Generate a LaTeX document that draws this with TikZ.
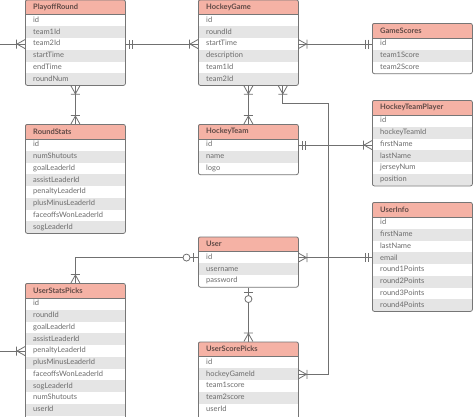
\documentclass[tikz,border=0pt]{standalone}
\usepackage{fontspec}
\setmainfont{Lato}
\usetikzlibrary{calc}
\definecolor{hdrfill}{RGB}{245,178,165}
\definecolor{rowgray}{RGB}{229,229,229}
\definecolor{bordercol}{RGB}{118,118,118}
\definecolor{conncol}{RGB}{112,112,112}
\definecolor{rowtext}{RGB}{108,108,108}
\definecolor{hdrtext}{RGB}{96,74,70}
\tikzset{
  conn/.style={draw=conncol, line width=0.8pt},
  rowbox/.style={anchor=north west, inner xsep=8pt, inner ysep=0pt, text width=84pt, align=left,
    minimum height=11.75pt, font=\fontsize{7.5}{8.5}\selectfont, text=rowtext},
  hdrlabel/.style={anchor=west, inner sep=0pt, font=\fontsize{7.5}{8.5}\selectfont\bfseries, text=hdrtext},
  outline/.style={draw=bordercol, line width=0.8pt, rounded corners=2pt, inner sep=0pt,
    anchor=north west, minimum width=100pt},
  crow/.pic={\draw[conn] (0,4.5) -- (8,0) -- (0,-4.5) (8.5,4.5) -- (8.5,-4.5);},
  twobar/.pic={\draw[conn] (3.5,4.5) -- (3.5,-4.5) (7,4.5) -- (7,-4.5);},
  zeroone/.pic={\draw[conn] (4.5,4.5) -- (4.5,-4.5); \draw[conn, fill=white] (11.5,0) circle (3.5pt);},
}
% name, x, y, title, outline rows, rows
\newcommand\ertable[6]{%
  \begin{scope}
    \clip[rounded corners=2pt] (#2,#3) rectangle ++(100,{15+#5*11.75});
    \fill[hdrfill] (#2,#3) rectangle ++(100,15);
    \foreach \r [count=\i] in {#6} {
      \ifodd\i \def\rowfill{white}\else\def\rowfill{rowgray}\fi
      \node[rowbox, fill=\rowfill] (#1-r\i) at (#2,{#3+15+(\i-1)*11.75}) {\strut\r};
    }
  \end{scope}
  \draw[bordercol, line width=0.5pt] (#2,{#3+15}) -- ++(100,0);
  \node[hdrlabel] (#1-h) at ({#2+8},{#3+7.5}) {#4};
  \node[outline, minimum height={15+#5*11.75}] (#1) at (#2,#3) {};
}
\begin{document}
\begin{tikzpicture}[x=1pt, y=-1pt]
\useasboundingbox (0,0) rectangle (474,416);
\clip (0,0) rectangle (474,416);
\fill[white] (0,0) rectangle (474,416);
\coordinate (O) at (0,0);

\ertable{PR}{25}{-0.5}{PlayoffRound}{6}{id,team1Id,team2Id,startTime,endTime,roundNum}
\ertable{HG}{198}{-0.5}{HockeyGame}{6}{id,roundId,startTime,description,team1Id,team2Id}
\ertable{GS}{372}{23}{GameScores}{3}{id,team1Score,team2Score}
\ertable{RS}{25}{124}{RoundStats}{8}{id,numShutouts,goalLeaderId,assistLeaderId,penaltyLeaderId,plusMinusLeaderId,faceoffsWonLeaderId,sogLeaderId}
\ertable{HT}{198}{124}{HockeyTeam}{3}{id,name,logo}
\ertable{HTP}{372}{100}{HockeyTeamPlayer}{6}{id,hockeyTeamId,firstName,lastName,jerseyNum,position}
\ertable{UI}{372}{202}{UserInfo}{8}{id,firstName,lastName,email,round1Points,round2Points,round3Points,round4Points}
\ertable{U}{198}{236.5}{User}{3}{id,username,password}
\ertable{USP}{25}{283}{UserStatsPicks}{11}{id,roundId,goalLeaderId,assistLeaderId,penaltyLeaderId,plusMinusLeaderId,faceoffsWonLeaderId,sogLeaderId,numShutouts,userId}
\ertable{UScP}{198}{341.5}{UserScorePicks}{6}{id,hockeyGameId,team1score,team2score,userId}

% left stub into PlayoffRound
\coordinate (L1) at (PR-r3.west -| O);
\draw[conn] (L1) -- (PR-r3.west);
\pic[rotate=180] at (PR-r3.west) {crow};
% PlayoffRound - HockeyGame
\draw[conn] (PR-r3.east) -- (HG-r3.west);
\pic at (PR-r3.east) {twobar};
\pic[rotate=180] at (HG-r3.west) {crow};
% HockeyGame - GameScores
\draw[conn] (HG-r3.east) -- (GS-r1.west);
\pic at (HG-r3.east) {crow};
\pic[rotate=180] at (GS-r1.west) {twobar};
% PlayoffRound - RoundStats
\draw[conn] (PR.south) -- (RS.north);
\pic[rotate=-90] at (PR.south) {crow};
\pic[rotate=90] at (RS.north) {crow};
% HockeyGame - HockeyTeam
\draw[conn] (HG.south) -- (HT.north);
\pic[rotate=-90] at (HG.south) {crow};
\pic[rotate=90] at (HT.north) {crow};
% HockeyGame - UserScorePicks
\coordinate (HGb) at ([xshift=-16pt]HG.south east);
\coordinate (J1) at (328,103);
\draw[conn] (HGb) |- (J1) |- (UScP-r2.east);
\pic[rotate=-90] at (HGb) {crow};
\pic at (UScP-r2.east) {crow};
% HockeyTeam - HockeyTeamPlayer
\coordinate (HTPin) at (HT-r1.east -| HTP.west);
\draw[conn] (HT-r1.east) -- (HTPin);
\pic at (HT-r1.east) {twobar};
\pic[rotate=180] at (HTPin) {crow};
% User - UserStatsPicks
\draw[conn] (U-r1.west) -| (USP.north);
\pic[rotate=180] at (U-r1.west) {zeroone};
\pic[rotate=90] at (USP.north) {crow};
% User - UserInfo
\coordinate (UIin) at (U-r1.east -| UI.west);
\draw[conn] (U-r1.east) -- (UIin);
\pic at (U-r1.east) {crow};
\pic[rotate=180] at (UIin) {twobar};
% User - UserScorePicks
\draw[conn] (U.south) -- (UScP.north);
\pic[rotate=-90] at (U.south) {zeroone};
\pic[rotate=90] at (UScP.north) {crow};
% left stub into UserStatsPicks
\coordinate (L2) at (USP-r5.west -| O);
\draw[conn] (L2) -- (USP-r5.west);
\pic[rotate=180] at (USP-r5.west) {crow};
\end{tikzpicture}
\end{document}
